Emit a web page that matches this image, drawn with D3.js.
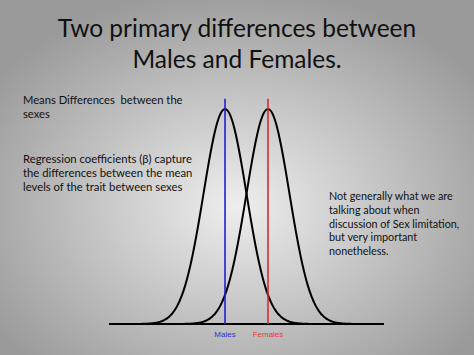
<!DOCTYPE html>
<html>
<head>
<meta charset="utf-8">
<script src="https://cdn.jsdelivr.net/npm/d3@7"></script>
<style>
  html, body { margin: 0; padding: 0; }
  body { width: 474px; height: 355px; overflow: hidden; }
  svg text { font-family: Lato, "Open Sans", sans-serif; fill: #111; white-space: pre; }
</style>
</head>
<body>
<div class="slide"></div>
<script>
// --- Data ---
const groups = ["Males", "Females"];
const means = [0, 2];          // in SD units
const sds = [1, 1];
const lineColors = ["#1f1fd0", "#e02a2a"];
const labelColors = ["#2b34c8", "#e0403a"];

const titleLines = ["Two primary differences between", "Males and Females."];
const leftTop = ["Means Differences  between the", "sexes"];
const leftBottom = ["Regression coefficients (\u03b2) capture", "the differences between the mean", "levels of the trait between sexes"];
const rightText = ["Not generally what we are", "talking about when", "discussion of Sex limitation,", "but very important", "nonetheless."];

const width = 474, height = 355;

const svg = d3.select(".slide").append("svg")
  .attr("width", width)
  .attr("height", height);

// background gradient
const grad = svg.append("defs").append("radialGradient")
  .attr("id", "bg")
  .attr("cx", "50%").attr("cy", "58%").attr("r", "62%");
grad.append("stop").attr("offset", "0%").attr("stop-color", "#eeeeee");
grad.append("stop").attr("offset", "100%").attr("stop-color", "#9a9a9a");
svg.append("rect").attr("width", width).attr("height", height).attr("fill", "url(#bg)");

// --- Scales ---
const x = d3.scaleLinear().domain([-5.4, 7.4]).range([109, 384]);
const y = d3.scaleLinear().domain([0, 0.3989]).range([324, 109]);

const density = (m, s) => v => Math.exp(-0.5 * ((v - m) / s) ** 2) / (s * Math.sqrt(2 * Math.PI));
const grid = d3.range(-5.4, 7.4001, 0.05);

const line = d3.line().x(d => x(d[0])).y(d => y(d[1])).curve(d3.curveBasis);

groups.forEach((g, i) => {
  const f = density(means[i], sds[i]);
  const lo = means[i] - 4, hi = means[i] + 4;
  svg.append("path")
    .datum(grid.filter(v => v >= lo && v <= hi).map(v => [v, f(v)]))
    .attr("fill", "none")
    .attr("stroke", "#000")
    .attr("stroke-width", 2)
    .attr("d", line);
});

// baseline
svg.append("line")
  .attr("x1", x(-5.4)).attr("x2", x(7.4))
  .attr("y1", y(0)).attr("y2", y(0))
  .attr("stroke", "#000").attr("stroke-width", 2.2);

// mean lines
groups.forEach((g, i) => {
  svg.append("line")
    .attr("x1", x(means[i])).attr("x2", x(means[i]))
    .attr("y1", y(0)).attr("y2", y(0.418))
    .attr("stroke", lineColors[i]).attr("stroke-width", 1.6);
  svg.append("text")
    .attr("x", x(means[i])).attr("y", 337)
    .attr("text-anchor", "middle")
    .style("font-family", "'Liberation Sans', Arial, sans-serif")
    .style("font-size", "8px")
    .style("fill", labelColors[i])
    .text(g);
});

// --- Text ---
svg.selectAll(".title").data(titleLines).enter().append("text")
  .attr("class", "title")
  .attr("x", 237).attr("y", (d, i) => 37 + i * 31)
  .attr("text-anchor", "middle")
  .style("font-size", "24.5px")
  .text(d => d);

function block(lines, x0, y0, dy, size) {
  svg.append("g").selectAll("text").data(lines).enter().append("text")
    .attr("x", x0).attr("y", (d, i) => y0 + i * dy)
    .style("font-size", size + "px")
    .text(d => d);
}
block(leftTop, 23, 104, 14, 11.2);
block(leftBottom, 23, 163, 14, 11.3);
block(rightText, 329, 200, 13.8, 10.8);
</script>
</body>
</html>
